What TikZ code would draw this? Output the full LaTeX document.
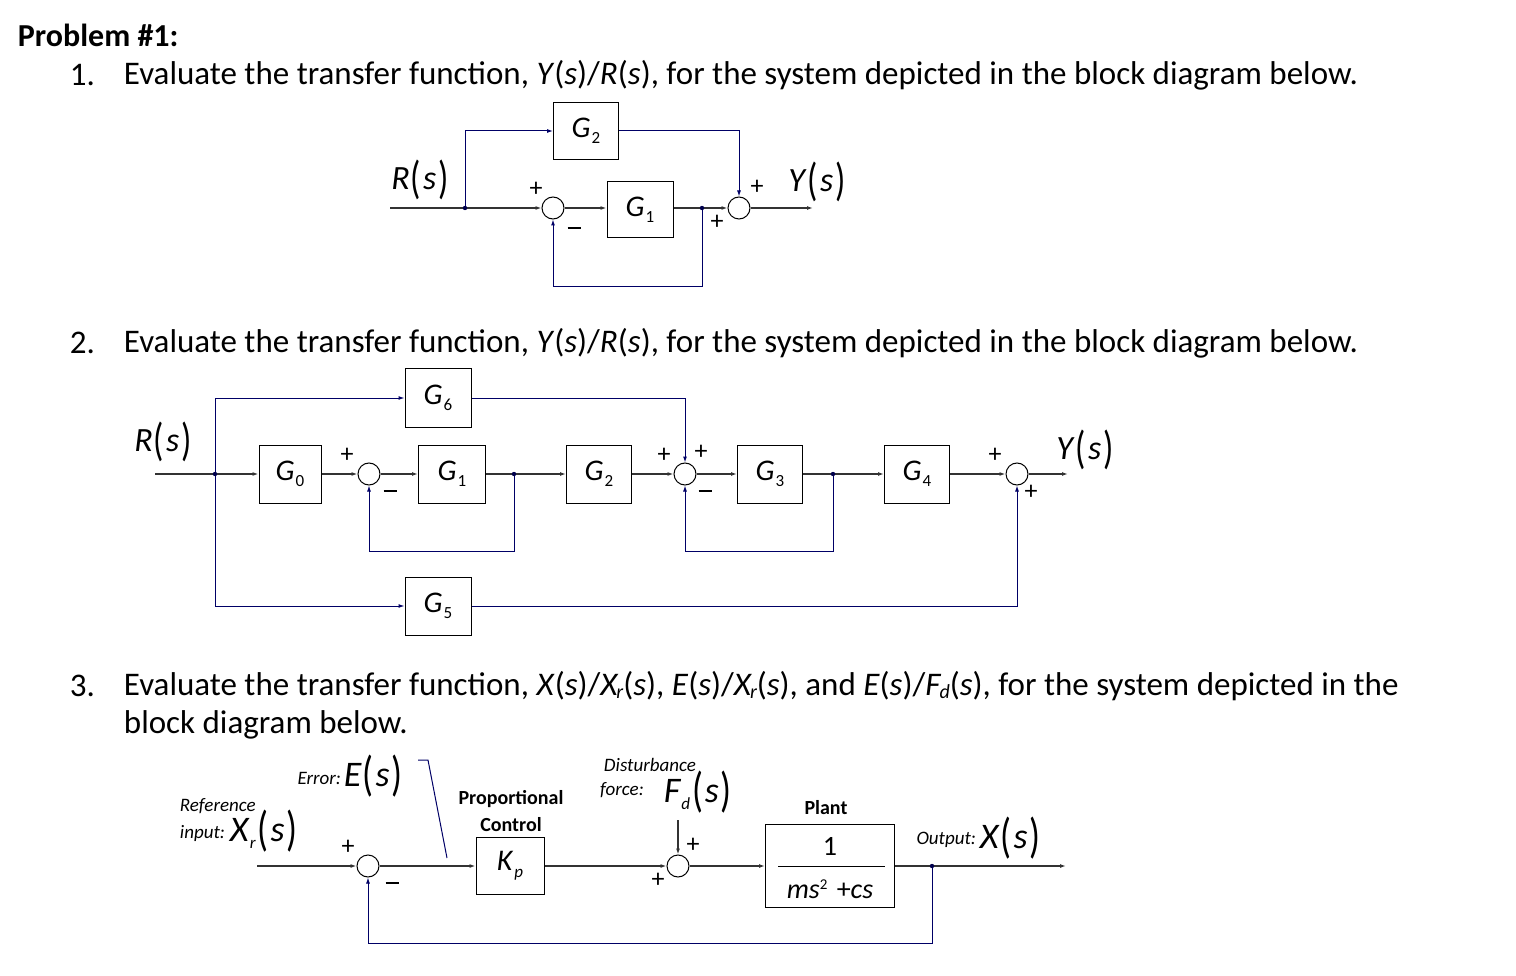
\documentclass[tikz,border=0pt]{standalone}
\usepackage{fontspec}
\setmainfont{Carlito}
\usetikzlibrary{arrows.meta}
\newcommand{\Gs}[1]{\textit{G}\kern1pt\raisebox{-6pt}{\fontsize{17}{18}\selectfont #1}}
\newcommand{\lp}{\raisebox{-0.25ex}{\scalebox{1}[1.35]{(}}}
\newcommand{\rp}{\raisebox{-0.25ex}{\scalebox{1}[1.35]{)}}}
\newcommand{\bigp}[1]{\fontsize{34}{40}\selectfont\textit{#1}\kern1pt\lp\kern2pt\textit{s}\kern2pt\rp}
\newcommand{\mns}{\rule[0pt]{13pt}{2pt}}
\begin{document}
\begin{tikzpicture}[x=1pt,y=-1pt,
  line width=1.2pt,
  blk/.style={draw,line width=1pt,inner sep=0pt,font=\fontsize{30}{36}\selectfont},
  sm/.style={draw,circle,minimum size=22pt,inner sep=0pt,line width=1pt},
  sig/.style={draw=black!80,line width=1.3pt},
  fb/.style={draw=blue!40!black,line width=1pt},
  arr/.style={-{Latex[length=6pt,width=4pt]}},
  sgn/.style={font=\fontsize{26}{26}\selectfont},
  txt/.style={anchor=west,font=\fontsize{33}{40}\selectfont},
  lab/.style={font=\fontsize{30}{36}\selectfont}]
\useasboundingbox (0,0) rectangle (1516,976);
% headings
\node[txt,font=\fontsize{32}{40}\selectfont\bfseries] (h0) at (14,35) {Problem \#1:};
\node[txt] (n1) at (66,75) {1.};
\node[txt] (t1) at (120,75) {Evaluate the transfer function, \textit{Y}(\textit{s})/\textit{R}(\textit{s}), for the system depicted in the block diagram below.};
\node[txt] (n2) at (66,343) {2.};
\node[txt] (t2) at (120,343) {Evaluate the transfer function, \textit{Y}(\textit{s})/\textit{R}(\textit{s}), for the system depicted in the block diagram below.};
\node[txt] (n3) at (66,686) {3.};
\node[txt] (t3) at (120,686) {Evaluate the transfer function, \textit{X}(\textit{s})/\textit{X\kern-1pt\raisebox{-3pt}{\fontsize{20}{20}\selectfont r}}(\textit{s}), \textit{E}(\textit{s})/\textit{X\kern-1pt\raisebox{-3pt}{\fontsize{20}{20}\selectfont r}}(\textit{s}), and \textit{E}(\textit{s})/\textit{F\kern-1pt\raisebox{-3pt}{\fontsize{20}{20}\selectfont d}}(\textit{s}), for the system depicted in the};
\node[txt] (t3b) at (120,725) {block diagram below.};

% ===== Diagram 1 =====
\coordinate (a0) at (390,208);
\coordinate (aj) at (465,208);
\node[blk,minimum width=65pt,minimum height=57pt] (aG2) at (586,131) {\Gs{2}};
\node[blk,minimum width=66pt,minimum height=56pt] (aG1) at (640,210) {\Gs{1}};
\node[sm] (aS1) at (553,208) {};
\node[sm] (aS2) at (739,208) {};
\coordinate (ab) at (702,208);
\coordinate (aout) at (813,208);
\node[lab] (aR) at (420,180) {\bigp{R}};
\node[lab] (aY) at (817,182) {\bigp{Y}};
\draw[sig] (a0) -- (aj);
\draw[sig,arr] (aj) -- (aS1);
\draw[sig,arr] (aS1) -- (aS1 -| aG1.west);
\draw[sig] (aG1.east |- ab) -- (ab);
\draw[sig,arr] (ab) -- (aS2);
\draw[sig,arr] (aS2) -- (aout);
\draw[fb,arr] (aj) |- (aG2.west);
\draw[fb,arr] (aG2.east) -| (aS2.north);
\draw[fb,arr] (ab) |- (553,287) -- (aS1.south);
\fill[blue!30!black] (aj) circle (2.2pt) (ab) circle (2.2pt);
\node[sgn] (ap1) at (536,189) {+};
\node[sgn] (am1) at (574,228) {\mns};
\node[sgn] (ap2) at (757,187) {+};
\node[sgn] (ap3) at (717,222) {+};

% ===== Diagram 2 =====
\coordinate (b0) at (155,474);
\coordinate (bj) at (215,474);
\node[blk,minimum width=62pt,minimum height=58pt] (bG0) at (290,474) {\Gs{0}};
\node[sm] (bS1) at (369,474) {};
\node[blk,minimum width=67pt,minimum height=58pt] (bG1) at (452,474) {\Gs{1}};
\coordinate (bb1) at (514,474);
\node[blk,minimum width=65pt,minimum height=58pt] (bG2) at (599,474) {\Gs{2}};
\node[sm] (bS2) at (685,474) {};
\node[blk,minimum width=65pt,minimum height=58pt] (bG3) at (770,474) {\Gs{3}};
\coordinate (bb2) at (833,474);
\node[blk,minimum width=65pt,minimum height=58pt] (bG4) at (917,474) {\Gs{4}};
\node[sm] (bS3) at (1017,474) {};
\coordinate (bout) at (1068,474);
\node[blk,minimum width=66pt,minimum height=59pt] (bG6) at (438,398) {\Gs{6}};
\node[blk,minimum width=66pt,minimum height=58pt] (bG5) at (438,606) {\Gs{5}};
\node[lab] (bR) at (163,442) {\bigp{R}};
\node[lab] (bY) at (1085,450) {\bigp{Y}};
\draw[sig] (b0) -- (bj);
\draw[sig,arr] (bj) -- (bG0.west);
\draw[sig,arr] (bG0.east) -- (bS1);
\draw[sig,arr] (bS1) -- (bG1.west);
\draw[sig] (bG1.east) -- (bb1);
\draw[sig,arr] (bb1) -- (bG2.west);
\draw[sig,arr] (bG2.east) -- (bS2);
\draw[sig,arr] (bS2) -- (bG3.west);
\draw[sig] (bG3.east) -- (bb2);
\draw[sig,arr] (bb2) -- (bG4.west);
\draw[sig,arr] (bG4.east) -- (bS3);
\draw[sig,arr] (bS3) -- (bout);
\draw[fb,arr] (bj) |- (bG6.west);
\draw[fb,arr] (bG6.east) -| (bS2.north);
\draw[fb,arr] (bj) |- (bG5.west);
\draw[fb,arr] (bG5.east) -| (bS3.south);
\draw[fb,arr] (bb1) |- (369,551) -- (bS1.south);
\draw[fb,arr] (bb2) |- (685,551) -- (bS2.south);
\fill[blue!30!black] (bj) circle (2.2pt) (bb1) circle (2.2pt) (bb2) circle (2.2pt);
\node[sgn] (bp1) at (347,455) {+};
\node[sgn] (bm1) at (390,491) {\mns};
\node[sgn] (bp2) at (664,455) {+};
\node[sgn] (bp3) at (701,452) {+};
\node[sgn] (bm2) at (705,491) {\mns};
\node[sgn] (bp4) at (995,455) {+};
\node[sgn] (bp5) at (1031,492) {+};

% ===== Diagram 3 =====
\coordinate (c0) at (257,866);
\node[sm] (cS1) at (368,866) {};
\node[blk,minimum width=68pt,minimum height=57pt] (cK) at (510,866) {\textit{K}\kern1pt\raisebox{-7pt}{\fontsize{17}{18}\selectfont\textit{p}}};
\node[sm] (cS2) at (678,866) {};
\node[blk,minimum width=129pt,minimum height=83pt] (cP) at (830,866) {};
\node[font=\fontsize{28}{30}\selectfont] (cnum) at (830,846) {1};
\draw[line width=1pt] (778,866) -- (885,866);
\node[font=\fontsize{28}{30}\selectfont] (cden) at (830,889) {\textit{ms}\raisebox{9pt}{\fontsize{15}{15}\selectfont 2}\,\,+\textit{cs}};
\coordinate (cb) at (932,866);
\coordinate (cout) at (1066,866);
\coordinate (cfd) at (678,820);
\draw[sig,arr] (c0) -- (cS1);
\draw[sig,arr] (cS1) -- (cK.west);
\draw[sig,arr] (cK.east) -- (cS2);
\draw[sig,arr] (cS2) -- (cP.west);
\draw[sig] (cP.east) -- (cb);
\draw[sig,arr] (cb) -- (cout);
\draw[sig,arr] (cfd) -- (cS2.north);
\draw[fb,arr] (cb) |- (368,943) -- (cS1.south);
\fill[blue!30!black] (cb) circle (2.2pt);
\coordinate (ce1) at (418,760);
\coordinate (ce2) at (428,760);
\coordinate (ce3) at (447,858);
\draw[fb] (ce1) -- (ce2) -- (ce3);
\node[sgn] (cp1) at (348,847) {+};
\node[sgn] (cm1) at (392,883) {\mns};
\node[sgn] (cp2) at (693,845) {+};
\node[sgn] (cp3) at (658,880) {+};
% labels
\node[anchor=east,font=\fontsize{19}{20}\selectfont\itshape] (cerr) at (345,778) {Error:};
\node[anchor=west,font=\fontsize{36}{40}\selectfont] (cE) at (340,776) {\textit{E}\kern1pt\lp\kern2pt\textit{s}\kern2pt\rp};
\node[anchor=west,font=\fontsize{19}{20}\selectfont\itshape] (cref) at (176,806) {Reference};
\node[anchor=west,font=\fontsize{19}{20}\selectfont\itshape] (cinp) at (176,833) {input:};
\node[anchor=west,font=\fontsize{36}{40}\selectfont] (cXr) at (226,831) {\textit{X}\raisebox{-7pt}{\fontsize{17}{18}\selectfont\textit{r}}\kern2pt\lp\kern2pt\textit{s}\kern2pt\rp};
\node[font=\fontsize{20}{22}\selectfont\bfseries] (cprop) at (511,799) {Proportional};
\node[font=\fontsize{20}{22}\selectfont\bfseries] (cctl) at (511,825) {Control};
\node[font=\fontsize{19}{20}\selectfont\itshape] (cdist) at (650,765) {Disturbance};
\node[font=\fontsize{19}{20}\selectfont\itshape] (cforce) at (622,790) {force:};
\node[anchor=west,font=\fontsize{36}{40}\selectfont] (cFd) at (660,792) {\textit{F}\raisebox{-7pt}{\fontsize{17}{18}\selectfont\textit{d}}\kern2pt\lp\kern2pt\textit{s}\kern2pt\rp};
\node[font=\fontsize{20}{22}\selectfont\bfseries] (cplant) at (826,808) {Plant};
\node[anchor=east,font=\fontsize{19}{20}\selectfont\itshape] (coutl) at (980,840) {Output:};
\node[anchor=west,font=\fontsize{36}{40}\selectfont] (cX) at (976,838) {\textit{X}\kern1pt\lp\kern2pt\textit{s}\kern2pt\rp};
\end{tikzpicture}
\end{document}
